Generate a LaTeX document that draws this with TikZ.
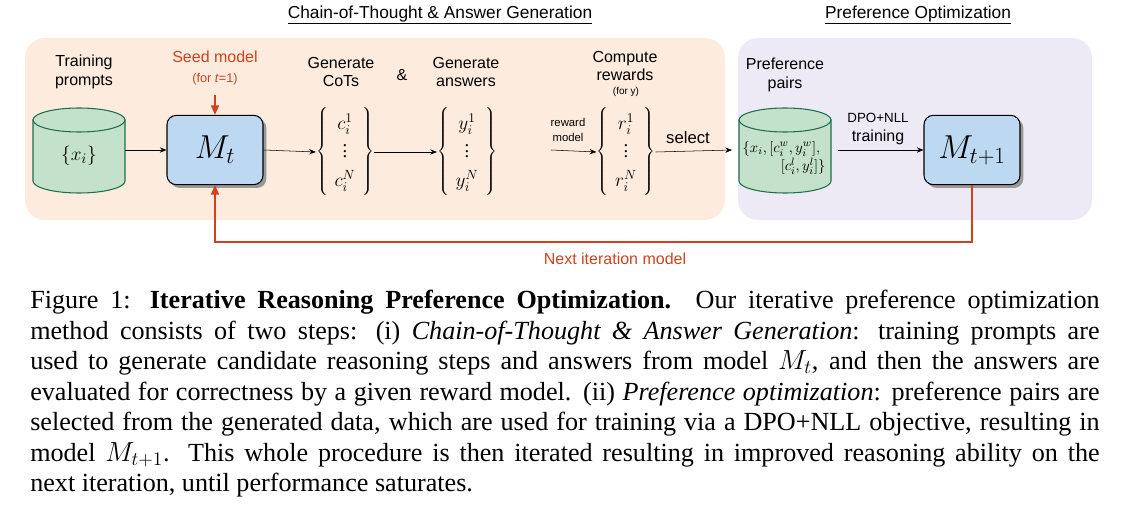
\documentclass[tikz,border=0pt]{standalone}
\usepackage{fontspec}
\setmainfont{Liberation Serif}
\setsansfont{Liberation Sans}
\usetikzlibrary{shadows,arrows.meta}
\definecolor{peach}{HTML}{FDECDD}
\definecolor{lav}{HTML}{EEEAF5}
\definecolor{cylg}{HTML}{C4E2CB}
\definecolor{cyld}{HTML}{1F6E4C}
\definecolor{boxb}{HTML}{BDD8F1}
\definecolor{redc}{HTML}{D2411D}
\tikzset{
  panel/.style={rounded corners=15pt,draw=none},
  lbl/.style={font=\sffamily\fontsize{12}{14}\selectfont,align=center},
  title/.style={font=\sffamily\fontsize{13}{15}\selectfont},
  model/.style={draw=black,thick,fill=boxb,rounded corners=7pt,minimum width=72pt,minimum height=52pt,
    drop shadow={shadow xshift=2.5pt,shadow yshift=-2.5pt,fill=gray!80,opacity=1},font=\fontsize{26}{30}\selectfont},
  arr/.style={-{Stealth[length=5pt,width=4pt]},thin},
  redarr/.style={-{Triangle[length=7pt,width=6pt]},redc,line width=1.2pt},
  setn/.style={font=\fontsize{14}{17}\selectfont,inner sep=0pt}
}
\newcommand{\cyl}[1]{%
  \fill[cylg,draw=cyld,thick] (#1-46,108+12) -- (#1-46,193-12) arc[start angle=180,end angle=360,x radius=34.5pt,y radius=9pt] -- (#1+46,108+12) -- cycle;
  \draw[cyld,thick,fill=cylg] (#1,108+12) ellipse[x radius=34.5pt,y radius=9pt];
}
\newcommand{\mset}[1]{$\renewcommand{\arraystretch}{1.35}\left\{\begin{array}{c} #1_i^1\\[-2pt] \vdots\\[-1pt] #1_i^N\end{array}\right\}$}
\begin{document}
\begin{tikzpicture}[x=0.75pt,y=-0.75pt]
\useasboundingbox (0,0) rectangle (1126,513);
\fill[peach,panel] (25,38) rectangle (725,220);
\fill[lav,panel] (738,38) rectangle (1092,220);
\node[title] (t1) at (440,15) {\underline{Chain-of-Thought \& Answer Generation}};
\node[title] (t2) at (918,15) {\underline{Preference Optimization}};
% cylinder 1
\cyl{79}
\node[font=\fontsize{15}{18}\selectfont] (x) at (79,156) {$\{x_i\}$};
\coordinate (xr) at (125,150);
\node[lbl] (tp) at (84,72) {Training\\prompts};
% Mt
\node[model] (mt) at (215,150) {$M_t$};
\node[lbl,text=redc] (seed) at (215,57) {Seed model};
\node[font=\sffamily\fontsize{9.5}{11}\selectfont,text=redc] (fort) at (215,79) {(for \textit{t}=1)};
\coordinate (seedtop) at (215,95);
\draw[redarr] (seedtop) -- (mt.north);
\draw[arr] (xr) -- (mt.west);
% sets
\node[setn] (c) at (345,152) {\mset{c}};
\node[lbl] (gc) at (341,72) {Generate\\CoTs};
\node[lbl] (amp) at (402,75) {\&};
\node[setn] (y) at (467,152) {\mset{y}};
\node[lbl] (ga) at (466,72) {Generate\\answers};
\node[setn] (r) at (626,152) {\mset{r}};
\node[lbl] (cr) at (625,66) {Compute\\rewards};
\node[font=\sffamily\fontsize{7.5}{8}\selectfont] (fy) at (626,92) {(for y)};
\draw[arr] (mt.east) -- (c.west);
\draw[arr] (c.east) -- (y.west);
\node[font=\sffamily\fontsize{8.5}{11}\selectfont,align=center] (rm) at (568,130) {reward\\model};
\coordinate (ys) at (551,150);
\draw[arr] (ys) -- (r.west);
% cylinder 2
\cyl{785}
\node[font=\fontsize{11}{14}\selectfont,align=left] (pp) at (784,158) {$\{x_i,[c_i^w,y_i^w],$\\\hspace*{2.6em}$[c_i^l,y_i^l]\}$};
\coordinate (p2l) at (732,150);
\coordinate (p2r) at (838,150);
\node[lbl] (ppl) at (785,75) {Preference\\pairs};
\draw[arr] (r.east) -- (p2l);
\node[lbl,font=\sffamily\fontsize{12.5}{14}\selectfont] (sel) at (688,138) {select};
\node[model] (mt1) at (972,150) {$M_{t+1}$};
\draw[arr] (p2r) -- (mt1.west);
\node[lbl,font=\sffamily\fontsize{10}{13}\selectfont] (dpo) at (878,118) {DPO+NLL};
\node[lbl] (tr) at (878,137) {training};
% feedback
\coordinate (fb1) at (972,242);
\coordinate (fb2) at (215,242);
\draw[redarr] (mt1.south) -- (fb1) -- (fb2) -- (mt.south);
\node[lbl,text=redc] (nim) at (615,259) {Next iteration model};
% caption
\node[anchor=north west,inner sep=0,text width=802pt,align=justify,font=\fontsize{19.6}{22.9}\selectfont] (cap) at (30,290)
{\hyphenpenalty=10000 Figure 1: \textbf{Iterative Reasoning Preference Optimization.} Our iterative preference optimization\linebreak method consists of two steps: (i) \textit{Chain-of-Thought \& Answer Generation}: training prompts are\linebreak used to generate candidate reasoning steps and answers from model $M_t$, and then the answers are\linebreak evaluated for correctness by a given reward model. (ii) \textit{Preference optimization}: preference pairs are\linebreak selected from the generated data, which are used for training via a DPO+NLL objective, resulting in\linebreak model $M_{t+1}$. This whole procedure is then iterated resulting in improved reasoning ability on the\linebreak next iteration, until performance saturates.};
\end{tikzpicture}
\end{document}
